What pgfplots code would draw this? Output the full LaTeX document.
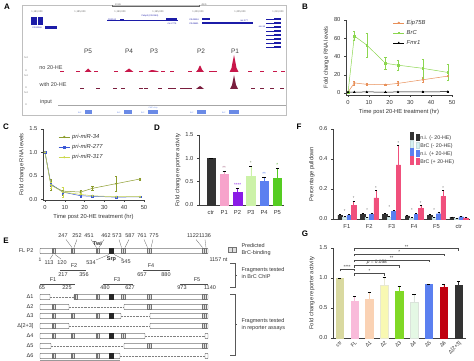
\documentclass[border=0pt]{standalone}
\usepackage{pgfplots}
\pgfplotsset{compat=1.18}
\usepackage{fontspec}
\setmainfont{Liberation Sans}

\definecolor{crim}{HTML}{C8174A}
\definecolor{maroonc}{HTML}{7A1E3E}
\definecolor{gblue}{HTML}{1C1CA8}
\definecolor{lblue}{HTML}{6A8AE6}
\definecolor{eipor}{HTML}{E8905A}
\definecolor{brcgr}{HTML}{8CD650}
\definecolor{olivec}{HTML}{8C9C2C}
\definecolor{bluec}{HTML}{3A58D6}
\definecolor{ygc}{HTML}{CCD84E}
\definecolor{darkc}{HTML}{333333}
\definecolor{pinkP}{HTML}{F7A3CB}
\definecolor{purP}{HTML}{8A1BE6}
\definecolor{lgrP}{HTML}{CCF2A8}
\definecolor{bluP}{HTML}{5B80F0}
\definecolor{grnP}{HTML}{55CC22}
\definecolor{lcyan}{HTML}{D6F2F2}
\definecolor{pinkR}{HTML}{F0507C}
\definecolor{khaki}{HTML}{D9D9A0}
\definecolor{pinkG}{HTML}{F9BBDA}
\definecolor{peach}{HTML}{FAD2B4}
\definecolor{lyel}{HTML}{F8F8B2}
\definecolor{limeG}{HTML}{80D826}
\definecolor{mint}{HTML}{E4F8E4}
\definecolor{redG}{HTML}{C0000F}

\newcommand{\fsz}[1]{\fontsize{#1}{#1}\selectfont}

% schematic helpers (canvas axis, 1 unit = 1pt, y downwards)
\newcommand{\ebar}[3]{\draw[black!55, fill=white, line width=0.4pt, rounded corners=0.6pt] ([yshift=2.6pt]axis cs:#1,#3) rectangle ([yshift=-2.6pt]axis cs:#2,#3);}
\newcommand{\emk}[4]{\draw[black!55, fill=black!12, line width=0.35pt] ([yshift=2.6pt]axis cs:#1,#4) rectangle ([yshift=-2.6pt]axis cs:#2,#4); \draw[black!55, fill=black!12, line width=0.35pt] ([yshift=2.6pt]axis cs:#2,#4) rectangle ([yshift=-2.6pt]axis cs:#3,#4);}
\newcommand{\eblk}[1]{\fill[black!85] ([yshift=2.6pt]axis cs:109,#1) rectangle ([yshift=-2.6pt]axis cs:114,#1);}
\newcommand{\edot}[3]{\draw[black!50, densely dotted, line width=0.45pt] (axis cs:#1,#3) -- (axis cs:#2,#3);}
\newcommand{\bump}[3]{\fill[#3] ([xshift=-1.8pt]axis cs:#1,#2) rectangle ([xshift=1.8pt,yshift=0.9pt]axis cs:#1,#2);}
\newcommand{\cl}[2]{\node[font=\fsz{2.5}, text=black!60] at (axis cs:#1,12) {#2};}
\newcommand{\tx}[1]{\draw[gblue, line width=0.3pt] (axis cs:266,#1) -- (axis cs:281,#1); \fill[gblue] ([yshift=1.1pt]axis cs:274,#1) rectangle ([yshift=-1.1pt]axis cs:281,#1);}
\newcommand{\pl}[2]{\node[font=\fsz{6.5}, text=black!75] at (axis cs:#1,51) {#2};}
\newcommand{\sclab}[2]{\node[font=\fsz{2.5}, text=black!60] at (axis cs:26,#1) {#2};}
\newcommand{\bfeat}[2]{\fill[lblue] (axis cs:#1,110) rectangle (axis cs:#2,114); \node[font=\fsz{2}, text=lblue, anchor=east] at (axis cs:#1,112.5) {BrC};}
\newcommand{\tn}[2]{\node[font=\fsz{5.5}, text=black!80] at (axis cs:#1,236) {#2};}
\newcommand{\dlab}[2]{\node[font=\fsz{5.5}, text=black!80, anchor=east] at (axis cs:37,#1) {#2};}
\newcommand{\enum}[3]{\node[font=\fsz{5.5}, text=black!80] at (axis cs:#1,#2) {#3};}
\newcommand{\fstar}[2]{\node[font=\fsz{4}, text=black!70, above, inner sep=0.2pt] at (axis cs:#1,#2) {*};}

\pgfplotsset{
  prism/.style={
    scale only axis, anchor=south west, clip=false,
    axis x line*=bottom, axis y line*=left,
    tick align=outside, major tick length=2pt,
    every tick/.style={black!75, line width=0.4pt},
    axis line style={black!75, line width=0.45pt},
    tick label style={font=\fsz{5.8}, text=black!80},
    label style={font=\fsz{5.8}, text=black!80},
    /pgf/number format/assume math mode=true,
  },
  onedec/.style={yticklabel style={/pgf/number format/.cd, fixed, fixed zerofill, precision=1}},
  eb/.style={error bars/.cd, y dir=both, y explicit, error bar style={line width=0.35pt}, error mark options={rotate=90, mark size=1.1pt, line width=0.35pt}},
  ebp/.style={error bars/.cd, y dir=plus, y explicit, error bar style={line width=0.4pt}, error mark options={rotate=90, mark size=1.6pt, line width=0.4pt}},
  ebs/.style={error bars/.cd, y dir=plus, y explicit, error bar style={line width=0.35pt}, error mark options={rotate=90, mark size=1pt, line width=0.35pt}},
  linelegend/.style={legend image code/.code={\draw[mark repeat=2,mark phase=2,##1] plot coordinates {(0cm,0cm) (0.2cm,0cm) (0.4cm,0cm)};}},
  barlegend/.style={legend image code/.code={\fill[##1] (0pt,-1.3pt) rectangle (9pt,1.3pt);}},
}

\begin{document}
\begin{tikzpicture}
\path[use as bounding box] (0,0) rectangle (474pt,361pt);

% ================= canvas: panels A and E, panel letters =================
\begin{axis}[at={(237pt,180.5pt)}, anchor=center, scale only axis, width=474pt, height=361pt,
  xmin=0, xmax=474, ymin=0, ymax=361, y dir=reverse, axis lines=none, ticks=none, clip=false]

% panel letters
\node[font=\fsz{8}\bfseries] at (axis cs:7,7) {A};
\node[font=\fsz{8}\bfseries] at (axis cs:305,7) {B};
\node[font=\fsz{8}\bfseries] at (axis cs:6,127) {C};
\node[font=\fsz{8}\bfseries] at (axis cs:157,128) {D};
\node[font=\fsz{8}\bfseries] at (axis cs:299,127) {F};
\node[font=\fsz{8}\bfseries] at (axis cs:6,241) {E};
\node[font=\fsz{8}\bfseries] at (axis cs:305,234) {G};

% ---------- Panel A: genome browser ----------
\draw[black!25, line width=0.4pt] (axis cs:22,5) rectangle (axis cs:286,115);
\draw[black!60, line width=0.3pt] (axis cs:112,6) -- (axis cs:199,6);
\draw[black!60, line width=0.3pt] (axis cs:112,4.8) -- (axis cs:112,7.2);
\draw[black!60, line width=0.3pt] (axis cs:199,4.8) -- (axis cs:199,7.2);
\node[font=\fsz{2.5}, text=black!60] at (axis cs:118,5) {10 kb};
\node[font=\fsz{2.5}, text=black!60] at (axis cs:204,5) {dm6};
\cl{37}{1,180,000} \cl{80}{1,185,000} \cl{120}{1,190,000} \cl{158}{1,195,000}
\cl{198}{1,200,000} \cl{240}{1,205,000} \cl{278}{1,210,000}
% gene models
\fill[gblue] (axis cs:31,17) rectangle (axis cs:36.5,25);
\fill[gblue] (axis cs:37.5,17) rectangle (axis cs:43,25);
\fill[gblue] (axis cs:45,26) rectangle (axis cs:57,29);
\node[font=\fsz{2.2}, text=gblue] at (axis cs:37,27.5) {CG32364};
\draw[gblue, line width=0.3pt] (axis cs:107,20) -- (axis cs:178,20);
\fill[gblue] (axis cs:120,18.8) rectangle (axis cs:124,21.2);
\fill[gblue] (axis cs:166,18.5) rectangle (axis cs:177,21.5);
\node[font=\fsz{2.2}, text=gblue] at (axis cs:150,15.8) {Pabp2 (CG2163)};
\node[font=\fsz{2.2}, text=gblue] at (axis cs:112,20) {CG2162};
\node[font=\fsz{2.2}, text=gblue] at (axis cs:172,24) {mir-2779};
\fill[gblue] (axis cs:202,18) rectangle (axis cs:210,20.5);
\fill[gblue] (axis cs:202,22) rectangle (axis cs:253,24.5);
\node[font=\fsz{2.2}, text=gblue] at (axis cs:194,19.3) {CR43334};
\node[font=\fsz{2.2}, text=gblue] at (axis cs:194,23.3) {CR43651};
\node[font=\fsz{2.2}, text=gblue] at (axis cs:244,20.5) {mir-277};
\tx{19} \tx{23} \tx{27} \tx{31} \tx{35} \tx{39} \tx{43} \tx{47}
\node[font=\fsz{2.2}, text=gblue] at (axis cs:262,27) {mir-34};
% peak labels
\pl{88}{P5} \pl{129}{P4} \pl{154}{P3} \pl{201}{P2} \pl{235}{P1}
% track scale labels
\sclab{58}{5.4} \sclab{71}{0} \sclab{76}{5.4} \sclab{88}{0} \sclab{93}{5.4} \sclab{105}{0}
\node[font=\fsz{5.5}, text=black!75] at (axis cs:51,68) {no 20-HE};
\node[font=\fsz{5.5}, text=black!75] at (axis cs:53,85) {with 20-HE};
\node[font=\fsz{5.5}, text=black!75] at (axis cs:46,102) {input};
% track: no 20-HE
\bump{62}{72}{crim} \bump{78}{72}{crim} \bump{96}{72}{crim} \bump{116}{72}{crim} \bump{141}{72}{crim}
\bump{163}{72}{crim} \bump{172}{72}{crim} \bump{190}{72}{crim} \bump{211}{72}{crim} \bump{215}{72}{crim}
\bump{250}{72}{crim} \bump{262}{72}{crim} \bump{275}{72}{crim} \bump{283}{72}{crim}
\addplot[fill=crim, draw=none, mark=none] coordinates {(84.5,72) (86,70.5) (88,68.5) (90,70.5) (91.5,72)};
\addplot[fill=crim, draw=none, mark=none] coordinates {(124.5,72) (127,70) (129,68.5) (131,70) (133.5,72)};
\addplot[fill=crim, draw=none, mark=none] coordinates {(148,72) (150,70.5) (152,70) (155,70.5) (157,71) (159,72)};
\addplot[fill=crim, draw=none, mark=none] coordinates {(196,72) (198,69.5) (199.3,66.5) (200,65.5) (200.7,66.5) (202,69.5) (204,72)};
\addplot[fill=crim, draw=none, mark=none] coordinates {(229.5,72) (231.5,68) (232.8,61) (234,55) (235.2,61) (236.5,68) (238.5,72)};
% track: with 20-HE
\bump{82}{89}{maroonc} \bump{98}{89}{maroonc} \bump{115}{89}{maroonc} \bump{123}{89}{maroonc}
\bump{141}{89}{maroonc} \bump{146}{89}{maroonc} \bump{160}{89}{maroonc} \bump{170}{89}{maroonc}
\bump{174}{89}{maroonc} \bump{182}{89}{maroonc} \bump{186}{89}{maroonc} \bump{190}{89}{maroonc}
\bump{253}{89}{maroonc} \bump{262}{89}{maroonc} \bump{272}{89}{maroonc} \bump{282}{89}{maroonc}
\addplot[fill=maroonc, draw=none, mark=none] coordinates {(196,89) (198.5,87) (200,86) (201.5,87) (204,89)};
\addplot[fill=maroonc, draw=none, mark=none] coordinates {(230,89) (232,85) (233.2,79) (234,75) (234.8,79) (236,85) (238,89)};
% track: input
\draw[black!35, line width=0.3pt] (axis cs:58,105.5) -- (axis cs:286,105.5);
% bottom features
\bfeat{85}{92} \bfeat{124}{132} \bfeat{148}{158} \bfeat{197}{206} \bfeat{229}{239}
\node[font=\fsz{2}, text=lblue] at (axis cs:153,108) {ChIP-chip};

% ---------- Panel E: schematic ----------
\tn{63}{247} \tn{77}{252} \tn{89}{451} \tn{106}{462} \tn{117}{573}
\tn{130}{587} \tn{142}{761} \tn{154}{775} \tn{193}{1122} \tn{205}{1136}
\draw[black!60, line width=0.3pt] (axis cs:66,239.5) -- (axis cs:72,247.5);
\draw[black!60, line width=0.3pt] (axis cs:77,239.5) -- (axis cs:74,247.5);
\draw[black!60, line width=0.3pt] (axis cs:91,239.5) -- (axis cs:96.5,247.5);
\draw[black!60, line width=0.3pt] (axis cs:104,239.5) -- (axis cs:99,247.5);
\draw[black!60, line width=0.3pt] (axis cs:119,239.5) -- (axis cs:121.5,247.5);
\draw[black!60, line width=0.3pt] (axis cs:129,239.5) -- (axis cs:125,247.5);
\draw[black!60, line width=0.3pt] (axis cs:144,239.5) -- (axis cs:147.5,247.5);
\draw[black!60, line width=0.3pt] (axis cs:153,239.5) -- (axis cs:151,247.5);
\draw[black!60, line width=0.3pt] (axis cs:196,239.5) -- (axis cs:202.5,247.5);
\draw[black!60, line width=0.3pt] (axis cs:205,239.5) -- (axis cs:206,247.5);
\node[font=\fsz{5.5}\bfseries, text=black!85] at (axis cs:97.5,243.5) {Twi};
\node[font=\fsz{5.5}, text=black!80, anchor=east] at (axis cs:37,251) {FL P2};
% FL P2
\ebar{40}{208}{251}
\emk{52}{53.5}{55}{251} \emk{71}{72.5}{74}{251} \emk{96}{97.5}{99}{251} \eblk{251}
\emk{121}{123}{125}{251} \emk{147}{149}{151}{251} \emk{202}{204}{206}{251}
\node[font=\fsz{5.5}\bfseries, text=black!85] at (axis cs:111.5,259.5) {Srp};
\node[font=\fsz{5}, text=black!80] at (axis cs:40,260) {1};
\enum{49}{262.5}{113} \enum{62}{262.5}{120} \enum{91}{263}{534} \enum{126}{262}{545}
\node[font=\fsz{5.5}, text=black!80, anchor=west] at (axis cs:206,259.5) {1157 nt};
\draw[black!60, line width=0.3pt] (axis cs:50,259) -- (axis cs:53,254.5);
\draw[black!60, line width=0.3pt] (axis cs:61,259) -- (axis cs:55,254.5);
\draw[black!60, line width=0.3pt] (axis cs:96,260) -- (axis cs:109,254.5);
\draw[black!60, line width=0.3pt] (axis cs:123,259) -- (axis cs:114,254.5);
% fragments for ChIP
\enum{74}{266}{F2}
\draw[black!70, line width=0.4pt] (axis cs:60,270) -- (axis cs:86,270);
\enum{63}{274.5}{217} \enum{84}{274.5}{356}
\enum{151}{266}{F4}
\draw[black!70, line width=0.4pt] (axis cs:143,270) -- (axis cs:170,270);
\enum{142}{274.5}{657} \enum{166}{274.5}{880}
\enum{53}{280}{F1}
\draw[black!70, line width=0.4pt] (axis cs:40,284) -- (axis cs:75,284);
\enum{42}{288}{65} \enum{67}{288}{225}
\enum{117}{280}{F3}
\draw[black!70, line width=0.4pt] (axis cs:103,284) -- (axis cs:133,284);
\enum{105}{288}{480} \enum{130}{288}{627}
\enum{197}{280}{F5}
\draw[black!70, line width=0.4pt] (axis cs:180,284) -- (axis cs:208,284);
\enum{182}{288}{973} \enum{210}{288}{1140}
% deletion constructs
\dlab{297}{Δ1} \dlab{307}{Δ2} \dlab{316}{Δ3} \dlab{326}{Δ[2+3]} \dlab{336}{Δ4} \dlab{346}{Δ5} \dlab{356}{Δ6}
% D1
\ebar{40}{50}{297} \edot{50}{74}{297} \ebar{74}{208}{297}
\emk{74}{75.5}{77}{297} \emk{96}{97.5}{99}{297} \eblk{297} \emk{121}{123}{125}{297} \emk{147}{149}{151}{297} \emk{202}{204}{206}{297}
% D2
\ebar{40}{69}{307} \emk{52}{53.5}{55}{307} \edot{69}{124}{307} \ebar{124}{208}{307}
\emk{147}{149}{151}{307} \emk{202}{204}{206}{307}
% D3
\ebar{40}{121}{316} \emk{52}{53.5}{55}{316} \emk{71}{72.5}{74}{316} \emk{96}{97.5}{99}{316} \eblk{316}
\edot{121}{150}{316} \ebar{150}{208}{316} \emk{202}{204}{206}{316}
% D[2+3]
\ebar{40}{69}{326} \emk{52}{53.5}{55}{326} \edot{69}{150}{326} \ebar{150}{208}{326} \emk{202}{204}{206}{326}
% D4
\ebar{40}{145}{336} \emk{52}{53.5}{55}{336} \emk{71}{72.5}{74}{336} \emk{96}{97.5}{99}{336} \eblk{336} \emk{121}{123}{125}{336}
\edot{145}{205}{336} \ebar{205}{208}{336}
% D5
\ebar{40}{51}{346} \edot{51}{124}{346} \ebar{124}{208}{346} \emk{147}{149}{151}{346} \emk{202}{204}{206}{346}
% D6
\ebar{40}{120}{356} \emk{52}{53.5}{55}{356} \emk{71}{72.5}{74}{356} \emk{96}{97.5}{99}{356} \eblk{356}
\edot{120}{205}{356} \ebar{205}{208}{356}
\fill[black!40] (axis cs:40,359.5) rectangle (axis cs:120,361);
% legend and brackets of E
\draw[black!55, fill=black!12, line width=0.35pt] (axis cs:228,247.5) rectangle (axis cs:232,252.5);
\draw[black!55, fill=black!12, line width=0.35pt] (axis cs:232,247.5) rectangle (axis cs:236,252.5);
\node[font=\fsz{5.5}, text=black!80, anchor=west] at (axis cs:238,246) {Predicted};
\node[font=\fsz{5.5}, text=black!80, anchor=west] at (axis cs:238,253) {BrC-binding};
\draw[black!65, line width=0.4pt] (axis cs:230,263) -- (axis cs:235,263) -- (axis cs:235,287) -- (axis cs:230,287);
\draw[black!65, line width=0.4pt] (axis cs:235,275) -- (axis cs:237,275);
\node[font=\fsz{5.5}, text=black!80, anchor=west] at (axis cs:238,270) {Fragments tested};
\node[font=\fsz{5.5}, text=black!80, anchor=west] at (axis cs:238,277) {in BrC ChIP};
\draw[black!65, line width=0.4pt] (axis cs:230,294) -- (axis cs:235,294) -- (axis cs:235,355) -- (axis cs:230,355);
\draw[black!65, line width=0.4pt] (axis cs:235,324.5) -- (axis cs:237,324.5);
\node[font=\fsz{5.5}, text=black!80, anchor=west] at (axis cs:238,321) {Fragments tested};
\node[font=\fsz{5.5}, text=black!80, anchor=west] at (axis cs:238,328) {in reporter assays};
\end{axis}

% ================= Panel B =================
\begin{axis}[prism, linelegend, at={(346pt,266.2pt)}, width=106pt, height=74.8pt,
  xmin=-1, xmax=50, ymin=-2, ymax=80, xtick={0,10,20,30,40,50}, ytick={0,20,40,60,80},
  xlabel={Time post 20-HE treatment (hr)}, ylabel={Fold change RNA levels},
  xlabel style={yshift=2pt}, ylabel style={yshift=-2pt},
  legend style={at={(0.44,1.03)}, anchor=north west, draw=none, fill=none, font=\fsz{5.8}, inner sep=0pt, row sep=0.5pt, text=black!80},
  legend cell align=left]
\addplot[eipor, line width=0.5pt, mark=*, mark size=0.8pt, eb] coordinates {
 (0,1) +- (0,0.2) (3,11) +- (0,2) (9,9.5) +- (0,1) (18,9) +- (0,1) (24,10.5) +- (0,2) (36,14.5) +- (0,3) (48,18.5) +- (0,4)};
\addlegendentry{\textit{Eip75B}}
\addplot[brcgr, line width=0.5pt, mark=square*, mark size=0.8pt, eb] coordinates {
 (0,1) +- (0,0.2) (3,62.5) +- (0,5) (9,52.5) +- (0,13.5) (18,32.5) +- (0,6.5) (24,30.5) +- (0,6) (36,27) +- (0,10.5) (48,22.5) +- (0,9)};
\addlegendentry{\textit{BrC}}
\addplot[black, line width=0.5pt, mark=triangle*, mark size=0.9pt, eb] coordinates {
 (0,1) +- (0,0.2) (3,1) +- (0,0.3) (9,1.1) +- (0,0.3) (18,1) +- (0,0.3) (24,1.1) +- (0,0.3) (36,1.2) +- (0,0.4) (48,1.4) +- (0,0.5)};
\addlegendentry{\textit{Fmr1}}
\end{axis}

% ================= Panel C =================
\begin{axis}[prism, onedec, linelegend, at={(43pt,161pt)}, width=101pt, height=71pt,
  xmin=-1, xmax=50, ymin=-0.02, ymax=1.5, xtick={0,10,20,30,40,50}, ytick={0,0.5,1,1.5},
  xlabel={Time post 20-HE treatment (hr)}, ylabel={Fold change RNA levels},
  xlabel style={yshift=2pt}, ylabel style={yshift=-2pt},
  legend style={at={(0.15,0.96)}, anchor=north west, draw=none, fill=none, font=\fsz{5.8}, inner sep=0pt, row sep=0.5pt, text=black!80},
  legend cell align=left]
\addplot[olivec, line width=0.5pt, mark=*, mark size=0.8pt, eb] coordinates {
 (0,1) +- (0,0.02) (3,0.3) +- (0,0.12) (9,0.17) +- (0,0.08) (18,0.15) +- (0,0.05) (24,0.23) +- (0,0.05) (36,0.33) +- (0,0.17) (48,0.43) +- (0,0.02)};
\addlegendentry{\textit{pri-miR-34}}
\addplot[bluec, line width=0.5pt, mark=square*, mark size=0.8pt, eb] coordinates {
 (0,1) +- (0,0.02) (3,0.32) +- (0,0.05) (9,0.15) +- (0,0.05) (18,0.07) +- (0,0.02) (24,0.06) +- (0,0.01) (36,0.04) +- (0,0.01) (48,0.05) +- (0,0.01)};
\addlegendentry{\textit{pri-miR-277}}
\addplot[ygc, line width=0.5pt, mark=*, mark size=0.8pt, eb] coordinates {
 (0,1) +- (0,0.02) (3,0.3) +- (0,0.06) (9,0.15) +- (0,0.1) (18,0.1) +- (0,0.03) (24,0.07) +- (0,0.02) (36,0.05) +- (0,0.01) (48,0.05) +- (0,0.01)};
\addlegendentry{\textit{pri-miR-317}}
\end{axis}

% ================= Panel D =================
\begin{axis}[prism, onedec, at={(199pt,156pt)}, width=85pt, height=70pt,
  xmin=-0.9, xmax=5.5, ymin=0, ymax=1.5, ytick={0,0.5,1,1.5},
  xtick={0,1,2,3,4,5}, xticklabels={ctr,P1,P2,P3,P4,P5}, xtick style={draw=none},
  ylabel={Fold change reporter activity}, ylabel style={yshift=-2pt}]
\addplot[ybar, bar width=8.5pt, bar shift=0pt, fill=darkc, draw=darkc, ebp] coordinates {(0,1) +- (0,0)};
\addplot[ybar, bar width=8.5pt, bar shift=0pt, fill=pinkP, draw=pinkP, ebp] coordinates {(1,0.66) +- (0,0.07)};
\addplot[ybar, bar width=8.5pt, bar shift=0pt, fill=purP, draw=purP, ebp] coordinates {(2,0.28) +- (0,0.08)};
\addplot[ybar, bar width=8.5pt, bar shift=0pt, fill=lgrP, draw=lgrP, ebp] coordinates {(3,0.62) +- (0,0.22)};
\addplot[ybar, bar width=8.5pt, bar shift=0pt, fill=bluP, draw=bluP, ebp] coordinates {(4,0.52) +- (0,0.08)};
\addplot[ybar, bar width=8.5pt, bar shift=0pt, fill=grnP, draw=grnP, ebp] coordinates {(5,0.58) +- (0,0.2)};
\node[font=\fsz{4.5}, text=pinkP!70!black] at (axis cs:1,0.8) {**};
\node[font=\fsz{4.5}, text=purP] at (axis cs:2,0.43) {****};
\node[font=\fsz{4.5}, text=lgrP!60!black] at (axis cs:3,0.91) {*};
\node[font=\fsz{4.5}, text=bluP] at (axis cs:4,0.67) {**};
\node[font=\fsz{4.5}, text=grnP!80!black] at (axis cs:5,0.85) {*};
\end{axis}

% ================= Panel F =================
\begin{axis}[prism, onedec, barlegend, at={(333pt,142pt)}, width=137pt, height=90pt,
  xmin=-0.62, xmax=5.5, ymin=0, ymax=0.6, ytick={0,0.2,0.4,0.6},
  xtick={0,1,2,3,4,5}, xticklabels={F1,F2,F3,F4,F5,ctr}, xtick style={draw=none},
  ylabel={Percentage pulldown}, ylabel style={yshift=-2pt},
  ybar=0pt, bar width=4.5pt,
  legend style={at={(0.56,0.965)}, anchor=north west, draw=none, fill=none, font=\fsz{5.3}, inner sep=0pt, row sep=-2pt, text=black!80, nodes={inner sep=1pt}},
  legend cell align=left]
\addplot[fill=darkc, draw=darkc, ebs] coordinates {(0,0.025) +- (0,0.008) (1,0.03) +- (0,0.008) (2,0.03) +- (0,0.008) (3,0.02) +- (0,0.006) (4,0.025) +- (0,0.006) (5,0.012) +- (0,0.003)};
\addlegendentry{n.i. (- 20-HE)}
\addplot[fill=lcyan, draw=lcyan!80!gray, ebs] coordinates {(0,0.012) +- (0,0.004) (1,0.01) +- (0,0.004) (2,0.012) +- (0,0.004) (3,0.008) +- (0,0.003) (4,0.01) +- (0,0.003) (5,0.005) +- (0,0.002)};
\addlegendentry{BrC (- 20-HE)}
\addplot[fill=bluP, draw=bluP, ebs] coordinates {(0,0.025) +- (0,0.008) (1,0.03) +- (0,0.01) (2,0.05) +- (0,0.01) (3,0.03) +- (0,0.008) (4,0.035) +- (0,0.01) (5,0.015) +- (0,0.005)};
\addlegendentry{n.i. (+ 20-HE)}
\addplot[fill=pinkR, draw=pinkR, ebs] coordinates {(0,0.09) +- (0,0.03) (1,0.14) +- (0,0.05) (2,0.36) +- (0,0.13) (3,0.07) +- (0,0.02) (4,0.15) +- (0,0.04) (5,0.008) +- (0,0.003)};
\addlegendentry{BrC (+ 20-HE)}
\fstar{0.3}{0.125} \fstar{1.3}{0.195} \fstar{2.3}{0.495} \fstar{3.3}{0.095} \fstar{4.3}{0.195}
\fstar{-0.1}{0.04} \fstar{0.9}{0.045} \fstar{1.9}{0.065} \fstar{2.9}{0.045} \fstar{3.9}{0.05}
\end{axis}

% ================= Panel G =================
\begin{axis}[prism, onedec, at={(333pt,23pt)}, width=133pt, height=90pt,
  xmin=-0.45, xmax=8.5, ymin=0, ymax=1.5, ytick={0,0.5,1,1.5},
  xtick={0,1,2,3,4,5,6,7,8}, xticklabels={ctr,FL,Δ1,Δ2,Δ3,Δ4,Δ5,Δ6,{Δ[2+3]}},
  xtick style={draw=none},
  xticklabel style={rotate=45, anchor=north east, inner sep=0.3pt, font=\fsz{5.2}},
  ylabel={Fold change reporter activity}, ylabel style={yshift=-2pt}]
\addplot[ybar, bar width=7.5pt, bar shift=0pt, fill=khaki, draw=khaki, ebp] coordinates {(0,1) +- (0,0)};
\addplot[ybar, bar width=7.5pt, bar shift=0pt, fill=pinkG, draw=pinkG, ebp] coordinates {(1,0.62) +- (0,0.08)};
\addplot[ybar, bar width=7.5pt, bar shift=0pt, fill=peach, draw=peach, ebp] coordinates {(2,0.65) +- (0,0.12)};
\addplot[ybar, bar width=7.5pt, bar shift=0pt, fill=lyel, draw=lyel!80!black!40, ebp] coordinates {(3,0.88) +- (0,0.14)};
\addplot[ybar, bar width=7.5pt, bar shift=0pt, fill=limeG, draw=limeG, ebp] coordinates {(4,0.78) +- (0,0.08)};
\addplot[ybar, bar width=7.5pt, bar shift=0pt, fill=mint, draw=mint!80!black!50, ebp] coordinates {(5,0.6) +- (0,0.13)};
\addplot[ybar, bar width=7.5pt, bar shift=0pt, fill=bluP, draw=bluP, ebp] coordinates {(6,0.89) +- (0,0.01)};
\addplot[ybar, bar width=7.5pt, bar shift=0pt, fill=redG, draw=redG, ebp] coordinates {(7,0.84) +- (0,0.06)};
\addplot[ybar, bar width=7.5pt, bar shift=0pt, fill=darkc, draw=darkc, ebp] coordinates {(8,0.88) +- (0,0.07)};
% significance brackets
\draw[black!70, line width=0.35pt] (axis cs:0,1.11) -- (axis cs:0,1.15) -- (axis cs:1,1.15) -- (axis cs:1,1.11);
\node[font=\fsz{4.5}, text=black!80, above, inner sep=0.3pt] at (axis cs:0.5,1.15) {****};
\draw[black!70, line width=0.35pt] (axis cs:1,1.04) -- (axis cs:1,1.08) -- (axis cs:3,1.08) -- (axis cs:3,1.04);
\node[font=\fsz{4.5}, text=black!80, above, inner sep=0.3pt] at (axis cs:2,1.08) {*};
\draw[black!70, line width=0.35pt] (axis cs:1,1.17) -- (axis cs:1,1.21) -- (axis cs:4,1.21) -- (axis cs:4,1.17);
\node[font=\fsz{4.8}, text=black!80, above, inner sep=0.3pt] at (axis cs:2.5,1.21) {\textit{p} = 0.058};
\draw[black!70, line width=0.35pt] (axis cs:1,1.26) -- (axis cs:1,1.3) -- (axis cs:6,1.3) -- (axis cs:6,1.26);
\node[font=\fsz{4.5}, text=black!80, above, inner sep=0.3pt] at (axis cs:3.5,1.3) {**};
\draw[black!70, line width=0.35pt] (axis cs:1,1.36) -- (axis cs:1,1.4) -- (axis cs:7,1.4) -- (axis cs:7,1.36);
\node[font=\fsz{4.5}, text=black!80, above, inner sep=0.3pt] at (axis cs:4,1.4) {*};
\draw[black!70, line width=0.35pt] (axis cs:1,1.45) -- (axis cs:1,1.49) -- (axis cs:8,1.49) -- (axis cs:8,1.45);
\node[font=\fsz{4.5}, text=black!80, above, inner sep=0.3pt] at (axis cs:4.5,1.49) {**};
\end{axis}
\end{tikzpicture}
\end{document}
